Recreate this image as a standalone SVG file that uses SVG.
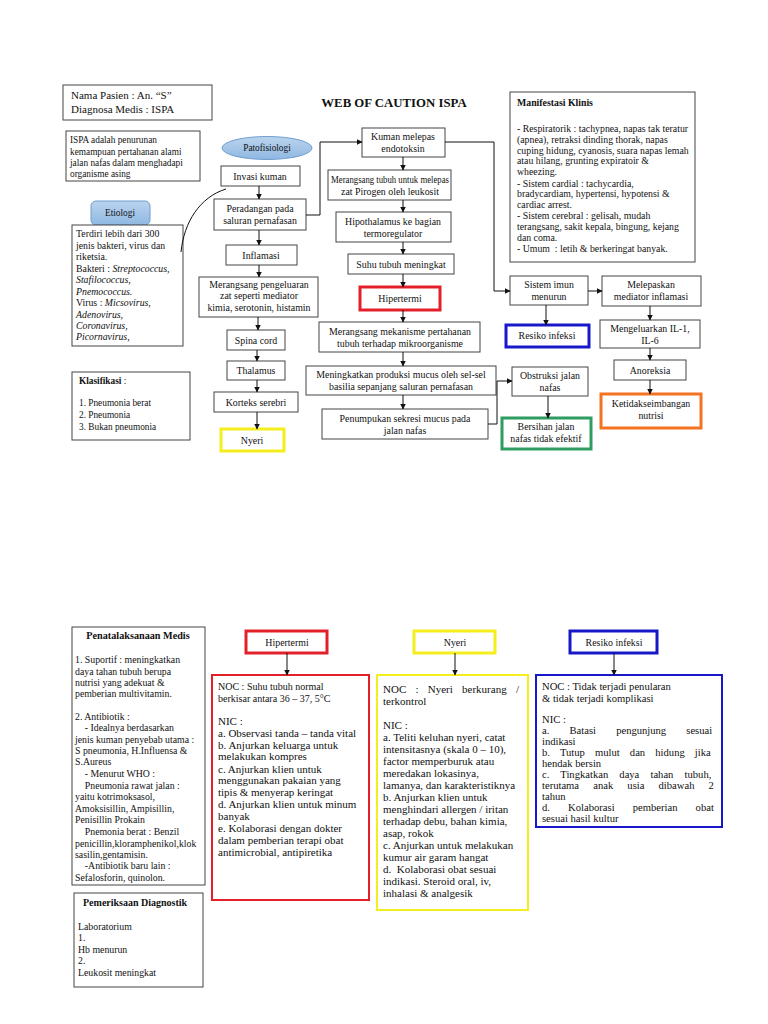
<svg xmlns="http://www.w3.org/2000/svg" width="768" height="1024" viewBox="0 0 768 1024">
<style>
text{font-family:"Liberation Serif","Times New Roman",serif;fill:#111;font-size:10px}
.n{font-size:9.9px}
.s{font-size:9.3px}
.p{font-size:9.8px}
.m{font-size:9.8px}
.k{font-size:11px}
.r{font-size:10.6px}
.c{text-anchor:middle}
.bd{font-weight:bold}
.i{font-style:italic}
.b{fill:#fff;stroke:#444;stroke-width:1}
.red{fill:#fff;stroke:#E3202A;stroke-width:3}
.yel{fill:#fff;stroke:#F4EE1C;stroke-width:3}
.blu{fill:#fff;stroke:#1818C8;stroke-width:3}
.grn{fill:#fff;stroke:#2F9C62;stroke-width:3}
.org{fill:#fff;stroke:#F47321;stroke-width:3}
.ln{fill:none;stroke:#111;stroke-width:1}
.ar{fill:none;stroke:#111;stroke-width:1;marker-end:url(#ah)}
</style>
<defs>
<marker id="ah" markerWidth="6" markerHeight="6" refX="5.5" refY="3" orient="auto" markerUnits="userSpaceOnUse"><path d="M0,0 L6,3 L0,6 z" fill="#111"/></marker>
<linearGradient id="gb" x1="0" y1="0" x2="0" y2="1"><stop offset="0" stop-color="#BBD4EE"/><stop offset="1" stop-color="#8FB8E2"/></linearGradient>
</defs>
<rect width="768" height="1024" fill="#fff"/>

<text x="394" y="107" class="c bd" style="font-size:12.8px">WEB OF CAUTION ISPA</text>

<g id="pasien"><rect class="b" x="63" y="85" width="149" height="35"/>
<text class="k" x="71" y="99">Nama Pasien : An. “S”</text><text class="k" x="71" y="113">Diagnosa Medis : ISPA</text></g>

<g id="definisi"><rect class="b" x="66" y="131" width="134" height="50"/>
<text class="s" x="70" y="143">ISPA adalah penurunan</text>
<text class="s" x="70" y="155">kemampuan pertahanan alami</text>
<text class="s" x="70" y="166">jalan nafas dalam menghadapi</text>
<text class="s" x="70" y="177">organisme asing</text></g>

<g id="patofisiologi"><ellipse cx="267" cy="148" rx="45" ry="11.5" fill="url(#gb)" stroke="#6F9ED0"/>
<text class="s c" x="267" y="151">Patofisiologi</text></g>

<g id="etiologi-label"><rect x="91" y="201" width="59" height="24" rx="5" fill="url(#gb)" stroke="#6F9ED0"/>
<text class="s c" x="120" y="216">Etiologi</text></g>
<g id="etiologi"><rect class="b" x="72" y="225" width="111" height="121"/>
<text class="p" x="76" y="237">Terdiri lebih dari 300</text>
<text class="p" x="76" y="249">jenis bakteri, virus dan</text>
<text class="p" x="76" y="260">riketsia.</text>
<text class="p" x="76" y="272">Bakteri : <tspan class="i">Streptococcus,</tspan></text>
<text class="p i" x="76" y="283">Stafilococcus,</text>
<text class="p i" x="76" y="295">Pnemococcus.</text>
<text class="p" x="76" y="306">Virus : <tspan class="i">Micsovirus,</tspan></text>
<text class="p i" x="76" y="318">Adenovirus,</text>
<text class="p i" x="76" y="329">Coronavirus,</text>
<text class="p i" x="76" y="340">Picornavirus,</text></g>

<g id="klasifikasi"><rect class="b" x="72" y="372" width="118" height="68"/>
<text class="s" x="79" y="384"><tspan class="bd">Klasifikasi</tspan> :</text>
<text class="s" x="79" y="406">1. Pneumonia berat</text>
<text class="s" x="79" y="418">2. Pneumonia</text>
<text class="s" x="79" y="430">3. Bukan pneumonia</text></g>

<g id="invasi"><rect class="b" x="221" y="166" width="79" height="20"/><text class="n c" x="260" y="180">Invasi kuman</text></g>
<g id="peradangan"><rect class="b" x="214" y="199" width="92" height="31"/><text class="n c" x="260" y="212">Peradangan pada</text><text class="n c" x="260" y="224">saluran pernafasan</text></g>
<g id="inflamasi"><rect class="b" x="226" y="245" width="71" height="20"/><text class="n c" x="261" y="259">Inflamasi</text></g>
<g id="pengeluaran"><rect class="b" x="199" y="277" width="119" height="40"/><text class="n c" x="259" y="288">Merangsang pengeluaran</text><text class="n c" x="259" y="299">zat seperti mediator</text><text class="n c" x="259" y="311">kimia, serotonin, histamin</text></g>
<g id="spina"><rect class="b" x="227" y="330" width="58" height="20"/><text class="n c" x="256" y="344">Spina cord</text></g>
<g id="thalamus"><rect class="b" x="227" y="361" width="58" height="19"/><text class="n c" x="256" y="374">Thalamus</text></g>
<g id="korteks"><rect class="b" x="214" y="392" width="84" height="20"/><text class="n c" x="256" y="406">Korteks serebri</text></g>
<g id="nyeri1"><rect class="yel" x="221" y="429" width="63" height="22"/><text class="n c" x="252" y="444">Nyeri</text></g>

<g id="kuman"><rect class="b" x="362" y="128" width="83" height="29"/><text class="n c" x="403" y="140">Kuman melepas</text><text class="n c" x="403" y="152">endotoksin</text></g>
<g id="pirogen"><rect class="b" x="328" y="170" width="123" height="30"/><text class="n c" x="390" y="183" textLength="118" lengthAdjust="spacingAndGlyphs">Merangsang tubuh untuk melepas</text><text class="n c" x="390" y="195">zat Pirogen oleh leukosit</text></g>
<g id="hipothalamus"><rect class="b" x="336" y="212" width="115" height="30"/><text class="n c" x="393" y="225">Hipothalamus ke bagian</text><text class="n c" x="393" y="237">termoregulator</text></g>
<g id="suhu"><rect class="b" x="348" y="254" width="106" height="20"/><text class="n c" x="401" y="268">Suhu tubuh meningkat</text></g>
<g id="hipertermi1"><rect class="red" x="360" y="287" width="80" height="23"/><text class="n c" x="400" y="302">Hipertermi</text></g>
<g id="mekanisme"><rect class="b" x="319" y="322" width="161" height="30"/><text class="n c" x="400" y="335">Merangsang mekanisme pertahanan</text><text class="n c" x="400" y="347">tubuh terhadap mikroorganisme</text></g>
<g id="mucus"><rect class="b" x="306" y="366" width="190" height="29"/><text class="n c" x="401" y="378">Meningkatkan produksi mucus oleh sel-sel</text><text class="n c" x="401" y="390">basilia sepanjang saluran pernafasan</text></g>
<g id="penumpukan"><rect class="b" x="322" y="409" width="166" height="30"/><text class="n c" x="405" y="422">Penumpukan sekresi mucus pada</text><text class="n c" x="405" y="434">jalan nafas</text></g>

<g id="manifestasi"><rect class="b" x="510" y="92" width="185" height="170"/>
<text class="m bd" x="517" y="106">Manifestasi Klinis</text>
<text class="m" x="517" y="132">- Respiratorik : tachypnea, napas tak teratur</text>
<text class="m" x="517" y="143">(apnea), retraksi dinding thorak, napas</text>
<text class="m" x="517" y="154">cuping hidung, cyanosis, suara napas lemah</text>
<text class="m" x="517" y="164">atau hilang, grunting expiratoir &amp;</text>
<text class="m" x="517" y="175">wheezing.</text>
<text class="m" x="517" y="187">- Sistem cardial : tachycardia,</text>
<text class="m" x="517" y="197">bradycardiam, hypertensi, hypotensi &amp;</text>
<text class="m" x="517" y="208">cardiac arrest.</text>
<text class="m" x="517" y="219">- Sistem cerebral : gelisah, mudah</text>
<text class="m" x="517" y="230">terangsang, sakit kepala, bingung, kejang</text>
<text class="m" x="517" y="241">dan coma.</text>
<text class="m" x="517" y="252" xml:space="preserve">- Umum  : letih &amp; berkeringat banyak.</text></g>

<g id="imun"><rect class="b" x="510" y="276" width="78" height="29"/><text class="n c" x="549" y="288">Sistem imun</text><text class="n c" x="549" y="300">menurun</text></g>
<g id="mediator"><rect class="b" x="602" y="276" width="99" height="30"/><text class="n c" x="651" y="288">Melepaskan</text><text class="n c" x="651" y="300">mediator inflamasi</text></g>
<g id="resiko1"><rect class="blu" x="506" y="325" width="83" height="22"/><text class="n c" x="547" y="339">Resiko infeksi</text></g>
<g id="il"><rect class="b" x="600" y="320" width="100" height="28"/><text class="n c" x="650" y="332">Mengeluarkan IL-1,</text><text class="n c" x="650" y="344">IL-6</text></g>
<g id="anoreksia"><rect class="b" x="614" y="360" width="72" height="20"/><text class="n c" x="650" y="374">Anoreksia</text></g>
<g id="obstruksi"><rect class="b" x="512" y="367" width="76" height="29"/><text class="n c" x="550" y="379">Obstruksi jalan</text><text class="n c" x="550" y="391">nafas</text></g>
<g id="bersihan"><rect class="grn" x="502" y="418" width="89" height="31"/><text class="n c" x="546" y="430">Bersihan jalan</text><text class="n c" x="546" y="442">nafas tidak efektif</text></g>
<g id="nutrisi"><rect class="org" x="601" y="394" width="100" height="34"/><text class="n c" x="651" y="407">Ketidakseimbangan</text><text class="n c" x="651" y="419">nutrisi</text></g>

<g id="penatalaksanaan"><rect class="b" x="72" y="627" width="133" height="258"/>
<text class="bd c" style="font-size:10.2px" x="138" y="639">Penatalaksanaan Medis</text>
<text class="p" x="75" y="663">1. Suportif : meningkatkan</text>
<text class="p" x="75" y="675">daya tahan tubuh berupa</text>
<text class="p" x="75" y="686">nutrisi yang adekuat &amp;</text>
<text class="p" x="75" y="697">pemberian multivitamin.</text>
<text class="p" x="75" y="720">2. Antibiotik :</text>
<text class="p" x="75" y="731" xml:space="preserve">    - Idealnya berdasarkan</text>
<text class="p" x="75" y="743">jenis kuman penyebab utama :</text>
<text class="p" x="75" y="754">S pneumonia, H.Influensa &amp;</text>
<text class="p" x="75" y="765">S.Aureus</text>
<text class="p" x="75" y="777" xml:space="preserve">    - Menurut WHO :</text>
<text class="p" x="75" y="789" xml:space="preserve">    Pneumonia rawat jalan :</text>
<text class="p" x="75" y="800">yaitu kotrimoksasol,</text>
<text class="p" x="75" y="812">Amoksisillin, Ampisillin,</text>
<text class="p" x="75" y="823">Penisillin Prokain</text>
<text class="p" x="75" y="835" xml:space="preserve">    Pnemonia berat : Benzil</text>
<text class="p" x="75" y="847">penicillin,kloramphenikol,klok</text>
<text class="p" x="75" y="858">sasilin,gentamisin.</text>
<text class="p" x="75" y="869" xml:space="preserve">    -Antibiotik baru lain :</text>
<text class="p" x="75" y="881">Sefalosforin, quinolon.</text></g>

<g id="pemeriksaan"><rect class="b" x="74" y="893" width="129" height="94"/>
<text class="bd" x="83" y="906">Pemeriksaan Diagnostik</text>
<text class="m" x="78" y="930">Laboratorium</text>
<text class="m" x="78" y="941">1.</text>
<text class="m" x="78" y="953">Hb menurun</text>
<text class="m" x="78" y="964">2.</text>
<text class="m" x="78" y="976">Leukosit meningkat</text></g>

<g id="hipertermi2"><rect class="red" x="246" y="631" width="81" height="22"/><text class="n c" x="287" y="646">Hipertermi</text></g>
<g id="intervensi-hipertermi"><rect fill="#fff" stroke="#E3202A" stroke-width="2" x="212" y="675" width="157" height="225"/>
<text x="218" y="690">NOC : Suhu tubuh normal</text>
<text x="218" y="702">berkisar antara 36 – 37, 5°C</text>
<text class="k" x="218" y="725">NIC :</text>
<text class="k" x="218" y="737">a. Observasi tanda – tanda vital</text>
<text class="k" x="218" y="749">b. Anjurkan keluarga untuk</text>
<text class="k" x="218" y="760">melakukan kompres</text>
<text class="k" x="218" y="773">c. Anjurkan klien untuk</text>
<text class="k" x="218" y="784">menggunakan pakaian yang</text>
<text class="k" x="218" y="796">tipis &amp; menyerap keringat</text>
<text class="k" x="218" y="808">d. Anjurkan klien untuk minum</text>
<text class="k" x="218" y="820">banyak</text>
<text class="k" x="218" y="832">e. Kolaborasi dengan dokter</text>
<text class="k" x="218" y="844">dalam pemberian terapi obat</text>
<text class="k" x="218" y="856">antimicrobial, antipiretika</text></g>

<g id="nyeri2"><rect class="yel" x="414" y="631" width="81" height="22"/><text class="n c" x="455" y="646">Nyeri</text></g>
<g id="intervensi-nyeri"><rect fill="#fff" stroke="#F4EE1C" stroke-width="2" x="377" y="675" width="151" height="235"/>
<text class="k" x="383" y="693" word-spacing="6.5">NOC : Nyeri berkurang /</text>
<text class="k" x="383" y="705">terkontrol</text>
<text class="k" x="383" y="729">NIC :</text>
<text class="k" x="383" y="741">a. Teliti keluhan nyeri, catat</text>
<text class="k" x="383" y="753">intensitasnya (skala 0 – 10),</text>
<text class="k" x="383" y="765">factor memperburuk atau</text>
<text class="k" x="383" y="777">meredakan lokasinya,</text>
<text class="k" x="383" y="789">lamanya, dan karakteristiknya</text>
<text class="k" x="383" y="801">b. Anjurkan klien untuk</text>
<text class="k" x="383" y="813">menghindari allergen / iritan</text>
<text class="k" x="383" y="825">terhadap debu, bahan kimia,</text>
<text class="k" x="383" y="837">asap, rokok</text>
<text class="k" x="383" y="849">c. Anjurkan untuk melakukan</text>
<text class="k" x="383" y="861">kumur air garam hangat</text>
<text class="k" x="383" y="873" xml:space="preserve">d.  Kolaborasi obat sesuai</text>
<text class="k" x="383" y="885">indikasi. Steroid oral, iv,</text>
<text class="k" x="383" y="897">inhalasi &amp; analgesik</text></g>

<g id="resiko2"><rect class="blu" x="570" y="631" width="87" height="22"/><text class="n c" x="614" y="646">Resiko infeksi</text></g>
<g id="intervensi-resiko"><rect fill="#fff" stroke="#1818C8" stroke-width="2" x="536" y="675" width="186" height="152"/>
<text class="r" x="542" y="690">NOC : Tidak terjadi penularan</text>
<text class="r" x="542" y="701.5">&amp; tidak terjadi komplikasi</text>
<text class="r" x="542" y="723">NIC :</text>
<text class="r" x="542" y="734" word-spacing="17.5">a. Batasi pengunjung sesuai</text>
<text class="r" x="542" y="745">indikasi</text>
<text class="r" x="542" y="756" word-spacing="7.5">b. Tutup mulut dan hidung jika</text>
<text class="r" x="542" y="767">hendak bersin</text>
<text class="r" x="542" y="778" word-spacing="8.5">c. Tingkatkan daya tahan tubuh,</text>
<text class="r" x="542" y="789" word-spacing="11.5">terutama anak usia dibawah 2</text>
<text class="r" x="542" y="800">tahun</text>
<text class="r" x="542" y="811" word-spacing="15.5">d. Kolaborasi pemberian obat</text>
<text class="r" x="542" y="822">sesuai hasil kultur</text></g>

<g id="connectors">
<path class="ln" d="M181,252 C184,222 200,197 226,189"/>
<path class="ar" d="M259,186 V199"/>
<path class="ar" d="M259,230 V245"/>
<path class="ar" d="M259,265 V277"/>
<path class="ar" d="M258,317 V330"/>
<path class="ar" d="M257,350 V361"/>
<path class="ar" d="M257,380 V392"/>
<path class="ar" d="M257,412 V429"/>
<path class="ar" d="M306,215 H320 V142 H362"/>
<path class="ar" d="M403,157 V170"/>
<path class="ar" d="M403,200 V212"/>
<path class="ar" d="M403,242 V254"/>
<path class="ar" d="M403,274 V287"/>
<path class="ar" d="M403,310 V322"/>
<path class="ar" d="M403,352 V366"/>
<path class="ar" d="M403,395 V409"/>
<path class="ar" d="M445,142 H494 V291 H510"/>
<path class="ar" d="M488,424 H497 V381 H512"/>
<path class="ar" d="M588,291 H602"/>
<path class="ar" d="M546,305 V325"/>
<path class="ar" d="M650,306 V320"/>
<path class="ar" d="M650,348 V360"/>
<path class="ar" d="M650,380 V394"/>
<path class="ar" d="M548,396 V418"/>
<path class="ar" d="M287,653 V675"/>
<path class="ar" d="M455,653 V675"/>
<path class="ar" d="M614,653 V675"/>
</g>
</svg>
